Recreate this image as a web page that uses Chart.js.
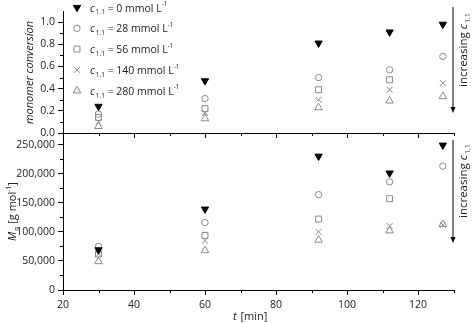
<!DOCTYPE html>
<html>
<head>
<meta charset="utf-8">
<script src="https://cdn.jsdelivr.net/npm/chart.js@4.4.1/dist/chart.umd.min.js"></script>
<style>
  html, body { margin: 0; padding: 0; background: #fff; }
  #wrap { position: relative; width: 474px; height: 323px; }
  #wrap canvas { position: absolute; left: 0; top: 0; }
</style>
</head>
<body>
<div id="wrap">
  <canvas id="convChart" width="474" height="323"></canvas>
  <canvas id="mnChart" width="474" height="323"></canvas>
</div>
<script>
// sampling times [min]
const times = [30, 60, 92, 112, 127];
// c1.1 levels [mmol L-1]
const concentrations = [0, 28, 56, 140, 280];

// monomer conversion per c1.1 level
const conv0 = [0.24, 0.47, 0.81, 0.91, 0.98];
const conv28 = [0.17, 0.31, 0.50, 0.57, 0.69];
const conv56 = [0.14, 0.22, 0.39, 0.48, null];
const conv140 = [0.10, 0.18, 0.30, 0.39, 0.45];
const conv280 = [0.06, 0.13, 0.23, 0.29, 0.33];

// Mn [g mol-1] per c1.1 level
const mn0 = [69000, 139000, 230000, 201000, 249000];
const mn28 = [75000, 116000, 164000, 186000, 213000];
const mn56 = [62000, 94000, 122000, 157000, null];
const mn140 = [62000, 85000, 100000, 110000, 112000];
const mn280 = [49000, 68000, 86000, 102000, 113000];

// axis ticks
const tTicks = [20, 40, 60, 80, 100, 120];
const tMinor = [30, 50, 70, 90, 110, 130];
const convTicks = [0, 0.2, 0.4, 0.6, 0.8, 1.0];
const convMinor = [0.1, 0.3, 0.5, 0.7, 0.9];
const mnTicks = [0, 50000, 100000, 150000, 200000, 250000];
const mnMinor = [25000, 75000, 125000, 175000, 225000];

const GREY = '#8a8a8a';
const INK = '#222';
const FONT = '"Open Sans", "Noto Sans", sans-serif';

const markers = [
    { pointStyle: 'triangle', rotation: 180, radius: 4.2, color: '#000', filled: true },
    { pointStyle: 'circle', rotation: 0, radius: 3.2, color: GREY },
    { pointStyle: 'rect', rotation: 0, radius: 4.2, color: GREY },
    { pointStyle: 'crossRot', rotation: 0, radius: 4.2, color: GREY },
    { pointStyle: 'triangle', rotation: 0, radius: 4.4, color: GREY }
];

const makeSets = (series) => series.map((vals, i) => {
    const m = markers[i];
    return {
        label: 'c1.1 = ' + concentrations[i] + ' mmol L-1',
        data: times.map((t, k) => ({ x: t, y: vals[k] })).filter(p => p.y !== null),
        showLine: false,
        pointStyle: m.pointStyle,
        rotation: m.rotation,
        pointRadius: m.radius,
        pointBorderWidth: 1,
        borderColor: m.color,
        backgroundColor: m.filled ? m.color : 'rgba(0,0,0,0)'
    };
});

// text made of italic / sub / superscript pieces, baseline starting at (x, y)
function drawRich(ctx, parts, x, y, size) {
    let cx = x;
    ctx.textAlign = 'left';
    ctx.textBaseline = 'alphabetic';
    for (const p of parts) {
        const s = (p.sub || p.sup) ? Math.round(size * 6.2) / 10 : size;
        ctx.font = (p.italic ? 'italic ' : '') + s + 'px ' + FONT;
        let dy = 0;
        if (p.sub) dy = size * 0.28;
        if (p.sup) dy = -size * 0.5;
        ctx.fillText(p.t, cx, y + dy);
        cx += ctx.measureText(p.t).width + (p.italic ? 1 : 0);
    }
}

// same text turned to read bottom-up, starting at (x, y)
function drawRotated(ctx, parts, x, y, size) {
    ctx.save();
    ctx.fillStyle = INK;
    ctx.translate(x, y);
    ctx.rotate(-Math.PI / 2);
    drawRich(ctx, parts, 0, 0, size);
    ctx.restore();
}

const c11 = [{ t: 'c', italic: true }, { t: '1.1', sub: true }];

const convTitle = [{ t: 'monomer conversion', italic: true }];
const mnTitle = [{ t: 'M', italic: true }, { t: 'n', sub: true }, { t: ' [g mol' }, { t: '-1', sup: true }, { t: ']' }];
const tTitle = [{ t: 't', italic: true }, { t: ' [min]' }];

function drawArrow(ctx, x, y0, y1) {
    ctx.save();
    ctx.strokeStyle = '#000';
    ctx.fillStyle = '#000';
    ctx.lineWidth = 1;
    ctx.beginPath();
    ctx.moveTo(x, y0);
    ctx.lineTo(x, y1 - 5);
    ctx.stroke();
    ctx.beginPath();
    ctx.moveTo(x - 2.5, y1 - 6);
    ctx.lineTo(x + 2.5, y1 - 6);
    ctx.lineTo(x, y1);
    ctx.closePath();
    ctx.fill();
    ctx.restore();
}

// shorter ticks between the labelled ones
const minorTicks = {
    id: 'minorTicks',
    afterDraw(chart, args, opts) {
        const ctx = chart.ctx;
        ctx.save();
        ctx.strokeStyle = '#000';
        ctx.lineWidth = 1;
        const xs = chart.scales.x, ys = chart.scales.y;
        (opts.x || []).forEach(v => {
            const px = Math.round(xs.getPixelForValue(v)) + 0.5;
            ctx.beginPath();
            ctx.moveTo(px, xs.top);
            ctx.lineTo(px, xs.top + 3);
            ctx.stroke();
        });
        (opts.y || []).forEach(v => {
            const py = Math.round(ys.getPixelForValue(v)) + 0.5;
            ctx.beginPath();
            ctx.moveTo(ys.right, py);
            ctx.lineTo(ys.right - 3, py);
            ctx.stroke();
        });
        ctx.restore();
    }
};

// legend with sub/superscripts, drawn on the conversion panel
const richLegend = {
    id: 'richLegend',
    afterDraw(chart) {
        const ctx = chart.ctx;
        ctx.save();
        concentrations.forEach((c, i) => {
            const yc = 7.5 + i * 20.8;
            const m = markers[i];
            ctx.strokeStyle = m.color;
            ctx.fillStyle = m.filled ? m.color : 'rgba(0,0,0,0)';
            ctx.lineWidth = 1;
            Chart.helpers.drawPoint(ctx, {
                pointStyle: m.pointStyle, rotation: m.rotation,
                radius: m.radius, borderWidth: 1
            }, 77, yc);
            ctx.fillStyle = INK;
            drawRich(ctx, c11.concat([
                { t: ' = ' + c + ' mmol L' },
                { t: '-1', sup: true }
            ]), 90, yc + 4, 10.5);
        });
        ctx.restore();
    }
};

// axis titles and the "increasing c1.1" arrow beside each panel
const panelText = {
    id: 'panelText',
    afterDraw(chart) {
        const ctx = chart.ctx;
        const area = chart.chartArea;
        ctx.save();
        ctx.fillStyle = INK;
        if (chart.canvas.id === 'convChart') {
            drawRotated(ctx, convTitle, area.left - 30, area.top + 113, 11);
            drawArrow(ctx, area.right - 0.5, area.top - 4, area.top + 102);
            drawRotated(ctx, [{ t: 'increasing ' }].concat(c11), area.right + 13, area.top + 76, 11.5);
        } else {
            drawRotated(ctx, mnTitle, area.left - 47, area.top + 108, 11);
            drawRich(ctx, tTitle, 233, 320, 11);
            drawArrow(ctx, area.right - 0.5, area.top + 7, area.top + 110);
            drawRotated(ctx, [{ t: 'increasing ' }].concat(c11), area.right + 13, area.top + 85, 11.5);
        }
        ctx.restore();
    }
};

const axisBase = {
    type: 'linear',
    border: { display: true, color: '#000', width: 1 },
    grid: { display: true, drawOnChartArea: false, drawTicks: true, tickLength: 5, color: '#000' },
    ticks: { color: INK, font: { family: FONT, size: 10.5 } }
};

const setTicks = (list) => (scale) => { scale.ticks = list.map(v => ({ value: v })); };

const baseOptions = {
    responsive: false,
    devicePixelRatio: 1,
    animation: false,
    events: [],
    plugins: { legend: { display: false }, tooltip: { enabled: false } }
};

// conversion panel (top)
new Chart(document.getElementById('convChart'), {
    type: 'scatter',
    data: { datasets: makeSets([conv0, conv28, conv56, conv140, conv280]) },
    options: {
        ...baseOptions,
        layout: { padding: { top: 11, right: 20.5, left: 0, bottom: 180 } },
        scales: {
            x: {
                ...axisBase, position: 'bottom', min: 20, max: 130,
                ticks: { display: false },
                afterBuildTicks: setTicks(tTicks),
                afterFit: (s) => { s.height = 10; }
            },
            y: {
                ...axisBase, position: 'left', min: 0, max: 1.1,
                ticks: { ...axisBase.ticks, padding: 3, callback: (v) => v.toFixed(1) },
                afterBuildTicks: setTicks(convTicks),
                afterFit: (s) => { s.width = 63; }
            }
        },
        plugins: {
            ...baseOptions.plugins,
            minorTicks: { x: tMinor, y: convMinor }
        }
    },
    plugins: [minorTicks, richLegend, panelText]
});

// Mn panel (bottom)
new Chart(document.getElementById('mnChart'), {
    type: 'scatter',
    data: { datasets: makeSets([mn0, mn28, mn56, mn140, mn280]) },
    options: {
        ...baseOptions,
        layout: { padding: { top: 133, right: 20.5, left: 0, bottom: 0 } },
        scales: {
            x: {
                ...axisBase, position: 'bottom', min: 20, max: 130,
                ticks: { ...axisBase.ticks, padding: 4, maxRotation: 0 },
                afterBuildTicks: setTicks(tTicks),
                afterFit: (s) => { s.height = 33; }
            },
            y: {
                ...axisBase, position: 'left', min: 0, max: 270000,
                ticks: { ...axisBase.ticks, padding: 3, callback: (v) => v.toLocaleString('en-US') },
                afterBuildTicks: setTicks(mnTicks),
                afterFit: (s) => { s.width = 63; }
            }
        },
        plugins: {
            ...baseOptions.plugins,
            minorTicks: { x: tMinor, y: mnMinor }
        }
    },
    plugins: [minorTicks, panelText]
});
</script>
</body>
</html>
